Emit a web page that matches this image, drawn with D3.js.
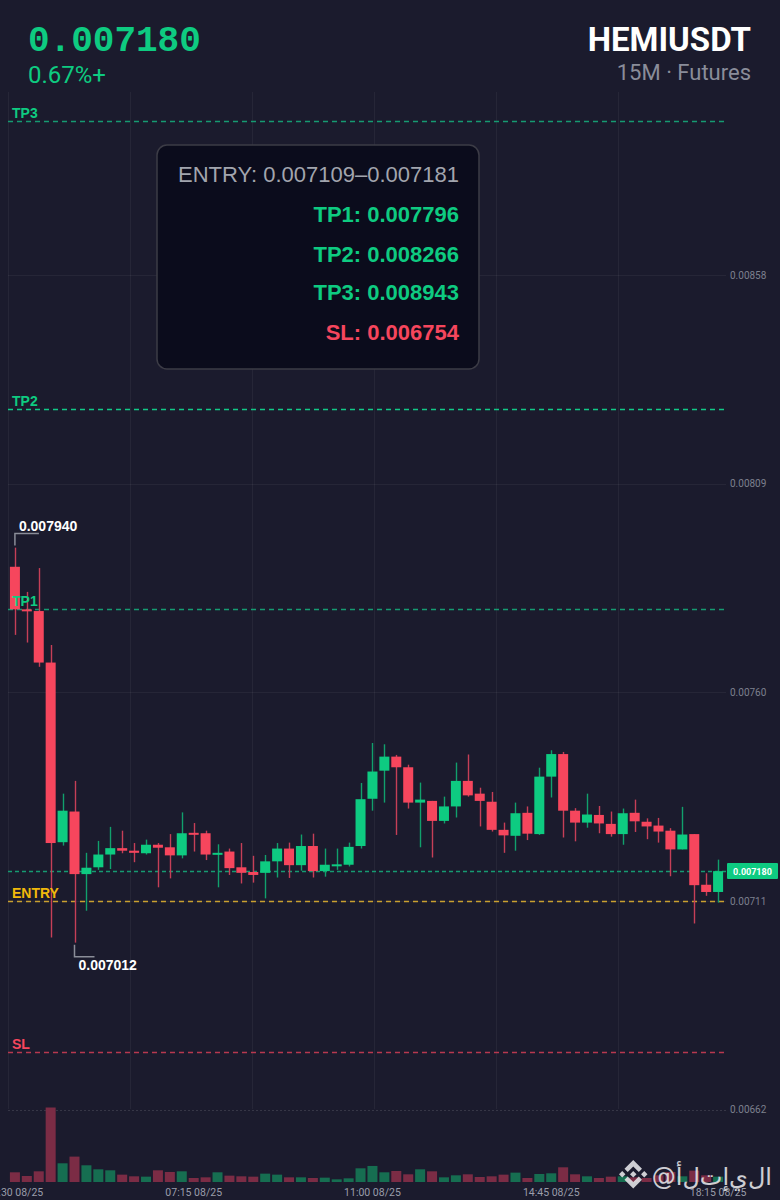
<!DOCTYPE html>
<html><head><meta charset="utf-8">
<script src="https://cdn.jsdelivr.net/npm/d3@7"></script>
<style>html,body{margin:0;padding:0;background:#1b1b2d;} svg{display:block}</style>
</head><body><svg id="c" width="780" height="1200"></svg>
<script>
// ---------- DATA ----------
const symbol = "HEMIUSDT";
const subtitle = "15M · Futures";
const lastPrice = 0.007180;
const changeText = "0.67%+";

const open = [0.007895,0.007795,0.007791,0.007670,0.007248,0.007320,0.007173,0.007189,0.007219,0.007234,0.007228,0.007222,0.007242,0.007236,0.007217,0.007270,0.007269,0.007219,0.007226,0.007189,0.007178,0.007176,0.007203,0.007233,0.007194,0.007239,0.007180,0.007193,0.007195,0.007239,0.007350,0.007416,0.007449,0.007424,0.007341,0.007345,0.007298,0.007332,0.007392,0.007362,0.007343,0.007277,0.007263,0.007317,0.007267,0.007402,0.007455,0.007322,0.007294,0.007312,0.007291,0.007267,0.007317,0.007296,0.007287,0.007275,0.007231,0.007267,0.007148,0.007131];
const high = [0.007940,0.007836,0.007892,0.007711,0.007362,0.007392,0.007223,0.007251,0.007284,0.007275,0.007246,0.007254,0.007246,0.007267,0.007318,0.007293,0.007275,0.007243,0.007233,0.007246,0.007216,0.007218,0.007246,0.007247,0.007266,0.007268,0.007233,0.007233,0.007247,0.007387,0.007481,0.007478,0.007453,0.007430,0.007388,0.007345,0.007355,0.007435,0.007454,0.007376,0.007366,0.007294,0.007341,0.007332,0.007423,0.007464,0.007460,0.007328,0.007362,0.007333,0.007320,0.007327,0.007348,0.007304,0.007305,0.007281,0.007331,0.007267,0.007175,0.007207];
const low = [0.007735,0.007717,0.007660,0.007024,0.007240,0.007012,0.007087,0.007183,0.007185,0.007222,0.007201,0.007219,0.007142,0.007163,0.007210,0.007226,0.007206,0.007142,0.007171,0.007151,0.007153,0.007116,0.007165,0.007164,0.007181,0.007165,0.007167,0.007183,0.007191,0.007233,0.007322,0.007341,0.007265,0.007327,0.007236,0.007212,0.007292,0.007306,0.007355,0.007285,0.007273,0.007223,0.007228,0.007253,0.007265,0.007353,0.007259,0.007250,0.007282,0.007269,0.007261,0.007242,0.007272,0.007255,0.007247,0.007168,0.007231,0.007057,0.007122,0.007106];
const close = [0.007795,0.007791,0.007670,0.007246,0.007322,0.007173,0.007188,0.007219,0.007234,0.007228,0.007223,0.007242,0.007235,0.007217,0.007269,0.007266,0.007219,0.007223,0.007187,0.007176,0.007171,0.007203,0.007233,0.007194,0.007239,0.007180,0.007195,0.007196,0.007237,0.007349,0.007414,0.007449,0.007424,0.007341,0.007348,0.007298,0.007332,0.007392,0.007358,0.007345,0.007277,0.007264,0.007316,0.007268,0.007402,0.007455,0.007322,0.007294,0.007313,0.007292,0.007267,0.007316,0.007297,0.007285,0.007273,0.007231,0.007266,0.007147,0.007131,0.007180];
const volume = [29,18,32,223,56,76,50,38,35,22,17,16,35,30,32,12,14,29,19,17,16,25,22,14,14,12,13,8,11,41,48,29,33,23,38,32,14,20,23,15,17,22,28,12,24,26,44,23,17,12,16,17,14,12,20,30,17,34,20,16];

const priceTicks = [0.00858, 0.00809, 0.00760, 0.00711, 0.00662];
const timeTickIndex = [0, 15, 30, 45, 59];
const timeTickLabels = ["03:30 08/25", "07:15 08/25", "11:00 08/25", "14:45 08/25", "18:15 08/25"];

const levelNames = ["TP3", "TP2", "TP1", "ENTRY", "SL"];
const levelValues = [0.008943, 0.008266, 0.007796, 0.007109, 0.006754];
const levelKinds = ["tp", "tp", "tp", "entry", "sl"];

const entryRange = [0.007109, 0.007181];
const highMark = {index: 0, value: 0.007940};
const lowMark = {index: 5, value: 0.007012};
// watermark letters, shown unjoined as in the reference
const watermarkLetters = ["ا", "ل", "ي", "إ", "ت", "ل", "أ"];

// ---------- STYLE ----------
const GREEN = "#0ecb81", RED = "#f6465d", YELLOW = "#f0b90b";
const VGREEN = "#166e51", VRED = "#7b2c45";
const GRID = "rgba(255,255,255,0.05)";
const AXIS_TXT = "#7d808e";

const svg = d3.select("#c");
svg.append("rect").attr("width", 780).attr("height", 1200).attr("fill", "#1b1b2d");

const L = 8, R = 726, TOP = 92, PRICE_BOTTOM = 1109;
const n = open.length;

const x = d3.scaleBand().domain(d3.range(n)).range([L, 725]).padding(0.16);
const xc = i => x(i) + x.bandwidth() / 2;
const y = d3.scaleLinear().domain([0.00662, 0.00858]).range([1109.5, 275.2]);
const yv = d3.scaleLinear().domain([0, d3.max(volume)]).range([1182, 1107.5]);

// grid
const gGrid = svg.append("g");
const vStep = 122;
d3.range(6).forEach(k => {
  gGrid.append("line").attr("x1", L + k * vStep + 0.5).attr("x2", L + k * vStep + 0.5)
    .attr("y1", TOP).attr("y2", PRICE_BOTTOM).attr("stroke", GRID).attr("stroke-width", 1);
});
priceTicks.forEach((t, i) => {
  gGrid.append("line").attr("x1", L).attr("x2", R)
    .attr("y1", Math.round(y(t)) + 0.5).attr("y2", Math.round(y(t)) + 0.5)
    .attr("stroke", i === priceTicks.length - 1 ? "rgba(255,255,255,0.12)" : GRID)
    .attr("stroke-dasharray", i === priceTicks.length - 1 ? "2,2" : null);
});

// price axis
const yAxis = d3.axisRight(y).tickValues(priceTicks).tickFormat(d3.format(".5f")).tickSize(0).tickPadding(4);
const gy = svg.append("g").attr("transform", `translate(${R},0)`).call(yAxis);
gy.select(".domain").remove();
gy.selectAll("text").attr("fill", AXIS_TXT).attr("font-family", "Roboto, sans-serif").attr("font-size", 10);

// volume
svg.append("g").selectAll("rect").data(volume).join("rect")
  .attr("x", (d, i) => x(i)).attr("width", x.bandwidth())
  .attr("y", d => yv(d)).attr("height", d => yv(0) - yv(d))
  .attr("fill", (d, i) => close[i] >= open[i] ? VGREEN : VRED);

// level lines
const lineColor = (k, name) => k === "tp" ? (name === "TP2" ? "#12c988" : "#169a72") : (k === "entry" ? "#c9a030" : "#b8384f");
const labelColor = k => k === "tp" ? GREEN : (k === "entry" ? YELLOW : RED);
const gLev = svg.append("g");
levelValues.forEach((v, i) => {
  const yy = Math.round(y(v)) + 0.5;
  gLev.append("line").attr("x1", L).attr("x2", R).attr("y1", yy).attr("y2", yy)
    .attr("stroke", lineColor(levelKinds[i], levelNames[i])).attr("stroke-width", 1.4)
    .attr("stroke-dasharray", "5,4");
});

// current price line
const yLast = Math.round(y(lastPrice)) + 0.5;
svg.append("line").attr("x1", L).attr("x2", R).attr("y1", yLast).attr("y2", yLast)
  .attr("stroke", "#169a72").attr("stroke-width", 1.4).attr("stroke-dasharray", "4,3");

// candles
const gC = svg.append("g");
d3.range(n).forEach(i => {
  const up = close[i] >= open[i];
  const col = up ? GREEN : RED;
  gC.append("line").attr("x1", Math.round(xc(i)) + 0.5).attr("x2", Math.round(xc(i)) + 0.5)
    .attr("y1", y(high[i])).attr("y2", y(low[i]))
    .attr("stroke", up ? "#11a06c" : "#c63f57").attr("stroke-width", 1.4);
  const top = y(Math.max(open[i], close[i])), bot = y(Math.min(open[i], close[i]));
  gC.append("rect").attr("x", x(i)).attr("width", x.bandwidth())
    .attr("y", top).attr("height", Math.max(2, bot - top)).attr("fill", col);
});

// level labels (on top of candles)
levelValues.forEach((v, i) => {
  const yy = Math.round(y(v)) + 0.5;
  svg.append("text").attr("x", 12).attr("y", yy - 4).text(levelNames[i])
    .attr("fill", labelColor(levelKinds[i])).attr("font-family", "Liberation Sans, Arial, sans-serif")
    .attr("font-weight", "bold").attr("font-size", 14);
});

// high / low annotations
const annFont = "Liberation Sans, Arial, sans-serif";
{
  const hx = xc(highMark.index), hy = y(highMark.value);
  svg.append("path").attr("d", `M${hx},${hy - 2} V${hy - 14} H${hx + 24}`)
    .attr("fill", "none").attr("stroke", "#8a8d98").attr("stroke-width", 1.5);
  svg.append("text").attr("x", hx + 4).attr("y", hy - 17).text(d3.format(".6f")(highMark.value))
    .attr("fill", "#ffffff").attr("font-family", annFont).attr("font-weight", "bold").attr("font-size", 14);
  const lx = xc(lowMark.index), ly = y(lowMark.value);
  svg.append("path").attr("d", `M${lx},${ly + 2} V${ly + 14} H${lx + 20}`)
    .attr("fill", "none").attr("stroke", "#8a8d98").attr("stroke-width", 1.5);
  svg.append("text").attr("x", lx + 4).attr("y", ly + 27).text(d3.format(".6f")(lowMark.value))
    .attr("fill", "#ffffff").attr("font-family", annFont).attr("font-weight", "bold").attr("font-size", 14);
}

// last price tag
svg.append("rect").attr("x", 727).attr("y", yLast - 8.5).attr("width", 51).attr("height", 16)
  .attr("fill", GREEN).attr("rx", 1);
svg.append("text").attr("x", 752.5).attr("y", yLast + 3.5).attr("text-anchor", "middle")
  .text(d3.format(".6f")(lastPrice)).attr("fill", "#ffffff").attr("font-family", "Roboto, sans-serif")
  .attr("font-weight", "bold").attr("font-size", 9);

// time axis
const xAxis = d3.axisBottom(x).tickValues(timeTickIndex).tickFormat((d, i) => timeTickLabels[i]).tickSize(0).tickPadding(0);
const gx = svg.append("g").attr("transform", "translate(0,1187)").call(xAxis);
gx.select(".domain").remove();
gx.selectAll("text").attr("fill", "#9a9daa").attr("font-family", "Roboto, sans-serif").attr("font-size", 10.5).attr("dy", "0.9em");

// header
svg.append("text").attr("x", 28).attr("y", 51).text(d3.format(".6f")(lastPrice))
  .attr("fill", GREEN).attr("font-family", "Liberation Mono, DejaVu Sans Mono, monospace")
  .attr("font-weight", "bold").attr("font-size", 36);
svg.append("text").attr("x", 28).attr("y", 83).text(changeText)
  .attr("fill", GREEN).attr("font-family", "Roboto, sans-serif").attr("font-size", 24);
svg.append("text").attr("x", 751).attr("y", 51).attr("text-anchor", "end").text(symbol)
  .attr("fill", "#ffffff").attr("font-family", "Roboto, sans-serif").attr("font-weight", "bold").attr("font-size", 33);
svg.append("text").attr("x", 751).attr("y", 80).attr("text-anchor", "end").text(subtitle)
  .attr("fill", "#8a8d9a").attr("font-family", "Roboto, sans-serif").attr("font-size", 22);

// info box
const box = svg.append("g");
box.append("rect").attr("x", 157).attr("y", 145).attr("width", 322).attr("height", 224).attr("rx", 10)
  .attr("fill", "#0b0c1c").attr("stroke", "#3c3c46").attr("stroke-width", 1.5);
const f6 = d3.format(".6f");
const boxLines = [
  {t: `ENTRY: ${f6(entryRange[0])}–${f6(entryRange[1])}`, c: "#a2a5ae", w: "normal", yy: 182},
  {t: `TP1: ${f6(levelValues[2])}`, c: GREEN, w: "bold", yy: 222},
  {t: `TP2: ${f6(levelValues[1])}`, c: GREEN, w: "bold", yy: 262},
  {t: `TP3: ${f6(levelValues[0])}`, c: GREEN, w: "bold", yy: 300},
  {t: `SL: ${f6(levelValues[4])}`, c: RED, w: "bold", yy: 340}
];
boxLines.forEach(b => {
  box.append("text").attr("x", 459).attr("y", b.yy).attr("text-anchor", "end").text(b.t)
    .attr("fill", b.c).attr("font-family", "Liberation Sans, Arial, sans-serif")
    .attr("font-weight", b.w).attr("font-size", 22);
});

// watermark
const wm = svg.append("g").attr("opacity", 0.9);
wm.append("path")
  .attr("d", "M38.73 53.2L63.3 28.63l24.59 24.59 14.3-14.3L63.3 0 24.43 38.9l14.3 14.3zM0 63.31l14.3-14.3 14.3 14.3-14.3 14.3zM38.73 73.41L63.3 97.99l24.59-24.59 14.31 14.29-38.9 38.91-38.9-38.88-.02-.02 14.32-14.3zM97.99 63.31l14.3-14.3 14.3 14.3-14.3 14.3zM77.83 63.3L63.3 48.76 52.56 59.5l-1.24 1.23-2.54 2.54-.02.02.02.03 14.52 14.5L77.83 63.3z")
  .attr("transform", "translate(619,1160) scale(0.225)")
  .attr("fill", "#e2e2e6");
wm.append("text").attr("x", 772).attr("y", 1185).attr("text-anchor", "end")
  .text("@" + watermarkLetters.join("\u200C"))
  .attr("fill", "#e2e2e6").attr("font-family", "DejaVu Sans, sans-serif").attr("font-size", 24);
</script></body></html>
